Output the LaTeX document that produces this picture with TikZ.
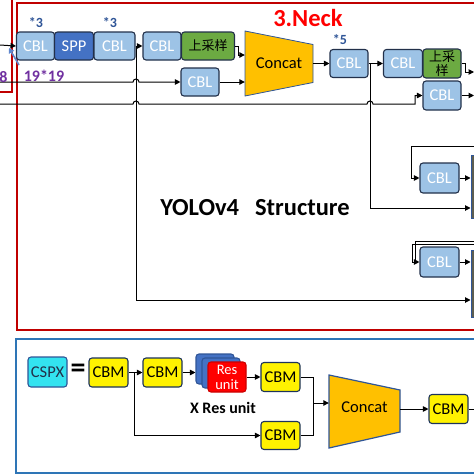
\documentclass[tikz,border=0pt]{standalone}
\usepackage{fontspec}
\setmainfont{Carlito}
\newfontfamily\cjk{Noto Sans CJK SC}
\usetikzlibrary{arrows.meta,calc}
\definecolor{cblblue}{HTML}{9DC3E6}
\definecolor{sppblue}{HTML}{4472C4}
\definecolor{edgenavy}{HTML}{22304A}
\definecolor{upgreen}{HTML}{6CAA42}
\definecolor{concatorange}{HTML}{FFC000}
\definecolor{neckred}{HTML}{C00000}
\definecolor{cspblue}{HTML}{2E75B6}
\definecolor{starblue}{HTML}{2F5597}
\definecolor{sizepurple}{HTML}{7030A0}
\definecolor{cspxcyan}{HTML}{33E3F0}
\definecolor{headgray}{HTML}{5E5E50}

\begin{document}
\begin{tikzpicture}[x=1pt, y=-1pt,
  blk/.style={draw=edgenavy, line width=1.1pt, rounded corners=3pt, minimum height=28pt, inner sep=0pt, font=\fontsize{16.5}{16.5}\selectfont},
  cbl/.style={blk, fill=cblblue, text=white, minimum width=38pt},
  spp/.style={blk, fill=sppblue, text=white, minimum width=39pt},
  upsample/.style={blk, fill=upgreen, text=black, align=center, font=\cjk\fontsize{13}{14}\selectfont},
  cbm/.style={blk, fill=yellow, draw=starblue!60!black, minimum width=39pt, minimum height=29pt},
  resback/.style={blk, fill=sppblue, draw=starblue, minimum width=38pt, minimum height=30pt},
  headbox/.style={draw=starblue, fill=headgray, line width=1pt, minimum width=10pt, inner sep=0pt},
  starnum/.style={text=starblue, font=\bfseries\fontsize{14}{14}\selectfont},
  sizenum/.style={text=sizepurple, font=\bfseries\fontsize{16}{16}\selectfont},
  bigtext/.style={font=\bfseries\fontsize{24.5}{24.5}\selectfont},
  concatsty/.style={fill=concatorange, draw=starblue, line width=0.8pt},
  line/.style={line width=1pt},
  arr/.style={line, -{Triangle[length=5.5pt,width=5.5pt]}}]
\useasboundingbox (0,0) rectangle (474,474);

\draw[neckred, line width=1.5pt] (-10,-10) rectangle (12,92);
\draw[neckred, line width=1.5pt] (17,3) rectangle (490,330);
\draw[cspblue, line width=1.5pt] (16,339) rectangle (490,473);
\path (308,18) node[bigtext, text=red] (necktitle) {3.Neck};
\path (255,208) node[bigtext] (yolotitle) {YOLOv4\hspace{16pt}Structure};

\path (35.5,46) node[cbl] (cblA) {CBL};
\path (74,46) node[spp] (spp) {SPP};
\path (114.5,46) node[cbl, minimum width=41pt] (cblB) {CBL};
\path (162,46) node[cbl] (cblC) {CBL};
\path (208,46) node[upsample, minimum width=53pt] (upA) {上采样};
\path (200,82) node[cbl] (cblD) {CBL};
\path (36,23) node[starnum] (starA) {*3};
\path (110,23) node[starnum] (starB) {*3};
\path (340,40) node[starnum] (starC) {*5};

\draw[concatsty] (245,31) -- (313,44.5) -- (313,82.5) -- (245,96) -- cycle;
\path (279,63.5) node[minimum width=68pt, minimum height=65pt, font=\fontsize{16.5}{16.5}\selectfont] (concatA) {Concat};
\path (349,63.5) node[cbl] (cbl5) {CBL};
\path (403,63.5) node[cbl, minimum width=39pt] (cblE) {CBL};
\path (442,63.5) node[upsample, minimum width=38pt, minimum height=29pt, font=\cjk\fontsize{13}{13.5}\selectfont] (upB) {上采\\样};
\path (442,95.5) node[cbl, minimum height=29pt] (cblF) {CBL};
\path (439.5,178) node[cbl, minimum width=39pt, minimum height=30pt] (cblG) {CBL};
\path (439.5,262) node[cbl, minimum width=39pt, minimum height=30pt] (cblH) {CBL};
\path (476,186.5) node[headbox, minimum height=63pt] (headA) {};
\path (476,283.5) node[headbox, minimum height=67pt] (headB) {};

\coordinate (inA) at (0,45);
\coordinate (jA) at (136,46);
\coordinate (jB) at (370,63.5);
\coordinate (outA) at (474,72);
\coordinate (outB) at (474,95.5);
\coordinate (inG) at (474,146);
\draw[arr] (inA) -- (cblA.west);
\draw[arr] (cblB.east) -- (cblC.west);
\draw[arr] (upA.east) -- ++(3,0) |- ($(concatA.west)+(0,-8.5)$);
\draw[arr] (0,82) -- (133,82) arc (180:360:3) -- (cblD.west);
\draw[arr] (cblD.east) -- (concatA.west |- cblD.east);
\draw[arr] (concatA.east) -- (cbl5.west);
\draw[arr] (cbl5.east) -- (cblE.west);
\draw[arr] (upB.east) -- ++(4,0) |- (outA);
\draw[arr] (cblF.east) -- (outB);
\draw[arr] (0,104) -- (133,104) arc (180:360:3) -- (367,104) arc (180:360:3) -- (415,104) |- (cblF.west);
\draw[arr] (jA) |- ($(headB.west)+(0,16.5)$);
\draw[arr] (jB) |- ($(headA.west)+(0,21.5)$);
\draw[arr] (inG) -| ($(cblG.west)+(-8,0)$) -- (cblG.west);
\draw[arr] (cblG.east) -- (headA.west |- cblG.east);
\draw[line] (474,241) -| ($(cblH.west)+(-4,0)$);
\draw[arr] (474,244) -| ($(cblH.west)+(-7,0)$) -- (cblH.west);
\draw[arr] (cblH.east) -- (headB.west |- cblH.east);

\path (44,76) node[sizenum] (sizeA) {19*19};
\path (11,77) node[sizenum, anchor=east] (sizeB) {8};
\coordinate (tagA) at (19,65);
\coordinate (tagB) at (9,48);
\draw[sppblue!85, line width=1.6pt, -{Triangle[length=5pt,width=6pt]}] (tagA) -- (tagB);

\path (47.5,372) node[blk, fill=cspxcyan, draw=starblue, text=edgenavy, minimum width=39pt, minimum height=30pt] (cspx) {CSPX};
\path (78,371) node[font=\bfseries\fontsize{30}{30}\selectfont] (eqsign) {=};
\path (108.5,372.5) node[cbm] (cbmA) {CBM};
\path (162.5,372.5) node[cbm] (cbmB) {CBM};
\path (215,369) node[resback] (resC) {};
\path (221,373) node[resback] (resB) {};
\path (227,377) node[resback, fill=red, draw=red!80!black, text=white, align=center, font=\fontsize{14.5}{15}\selectfont] (resA) {Res\\unit};
\path (223,408) node[font=\bfseries\fontsize{16}{16}\selectfont] (xres) {X Res unit};
\path (280.5,377) node[cbm] (cbmC) {CBM};
\path (280.5,435.5) node[cbm, minimum height=28pt] (cbmD) {CBM};
\draw[concatsty, line width=1.2pt] (329,375) -- (400,390) -- (400,432) -- (329,448) -- cycle;
\path (364.5,407) node[minimum width=71pt, minimum height=60pt, font=\fontsize{16.5}{16.5}\selectfont] (concatB) {Concat};
\path (448.5,409) node[cbm] (cbmE) {CBM};

\coordinate (jC) at (134,372.5);
\coordinate (jD) at (313,403);
\coordinate (outC) at (474,409);
\draw[arr] (cbmA.east) -- (cbmB.west);
\draw[arr] (cbmB.east) -- (resC.west |- cbmB.east);
\draw[arr] (jC) |- (cbmD.west);
\draw[arr] (resA.east) -- (cbmC.west);
\draw[line] (cbmC.east) -| (jD);
\draw[line] (cbmD.east) -| (jD);
\draw[arr] (jD) -- (concatB.west |- jD);
\draw[arr] (concatB.east |- cbmE.west) -- (cbmE.west);
\draw[line] (cbmE.east) -- (outC);
\end{tikzpicture}
\end{document}
